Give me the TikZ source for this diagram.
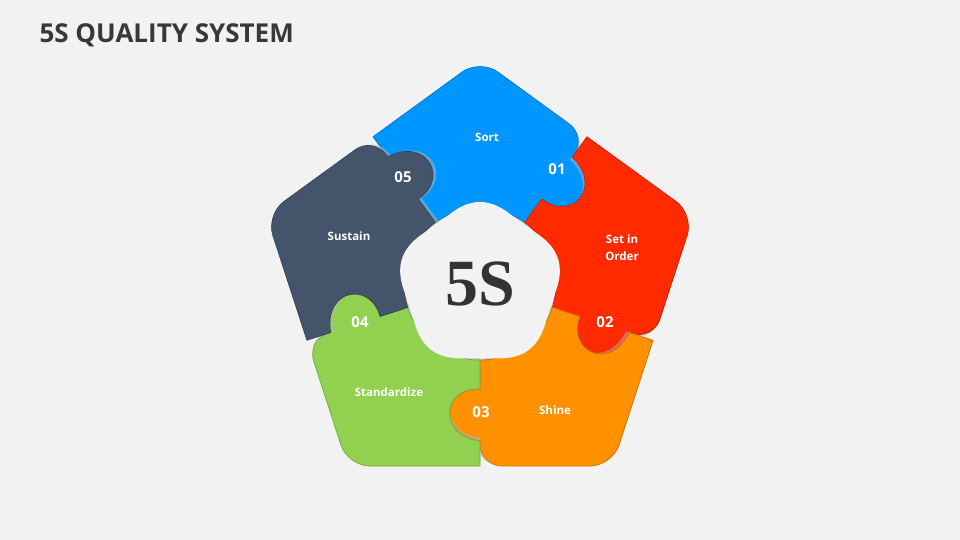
\documentclass[tikz,border=0pt]{standalone}
\usepackage{fontspec}
\setmainfont{Open Sans}
\newfontfamily\serifbold{Liberation Serif}
\definecolor{bg}{HTML}{F2F2F2}
\definecolor{csort}{HTML}{0096FF}
\definecolor{cset}{HTML}{FF2A00}
\definecolor{cshine}{HTML}{FF9000}
\definecolor{cstd}{HTML}{92D050}
\definecolor{csus}{HTML}{44546A}
\begin{document}
\begin{tikzpicture}[x=1pt,y=1pt,
  lbl/.style={text=white,font=\bfseries\fontsize{11.5}{17}\selectfont,align=center},
  num/.style={text=white,font=\bfseries\fontsize{15}{17}\selectfont}]
\useasboundingbox[fill=bg] (0,0) rectangle (960,-540);
\node[anchor=west,text=black!78,font=\bfseries\fontsize{26}{30}\selectfont] (title) at (36,-35) {5S QUALITY SYSTEM};
\newcommand\piece[2]{%
\begin{scope}[shift={(480,-284)},rotate=#1]
\fill[black!30,opacity=.5,xshift=2pt,yshift=-3pt]
 (126:182) [rounded corners=22pt] -- (90:225) -- (54:182) [sharp corners] -- (54:157)
 .. controls (38:157) and (34:110) .. (54:105) -- (54:76)
 arc[start angle=54,end angle=126,radius=76pt] -- (126:105)
 .. controls (106:110) and (110:157) .. (126:157) -- cycle;
\filldraw[fill=#2,draw=#2!80!black,line width=0.7pt]
 (126:182) [rounded corners=22pt] -- (90:225) -- (54:182) [sharp corners] -- (54:157)
 .. controls (38:157) and (34:110) .. (54:105) -- (54:76)
 arc[start angle=54,end angle=126,radius=76pt] -- (126:105)
 .. controls (106:110) and (110:157) .. (126:157) -- cycle;
\end{scope}}
\piece{0}{csort}
\piece{-72}{cset}
\piece{-144}{cshine}
\piece{-216}{cstd}
\piece{-288}{csus}
\begin{scope}[shift={(480,-284)}]
\fill[bg] plot[domain=0:356,samples=90,smooth cycle] (\x:{78+4*sin(5*\x)});
\end{scope}
\node[text=black!80,font=\serifbold\bfseries\fontsize{66}{70}\selectfont] (five) at (480,-284) {5S};
\node[lbl] (sort) at (487,-137) {Sort};
\node[num] (n1) at (557,-169) {01};
\node[lbl] (set) at (622,-248) {Set in\\Order};
\node[num] (n2) at (605,-322) {02};
\node[lbl] (shine) at (555,-410) {Shine};
\node[num] (n3) at (481,-412) {03};
\node[lbl] (std) at (389,-392) {Standardize};
\node[num] (n4) at (360,-322) {04};
\node[lbl] (sus) at (349,-236) {Sustain};
\node[num] (n5) at (403,-177) {05};
\end{tikzpicture}
\end{document}
